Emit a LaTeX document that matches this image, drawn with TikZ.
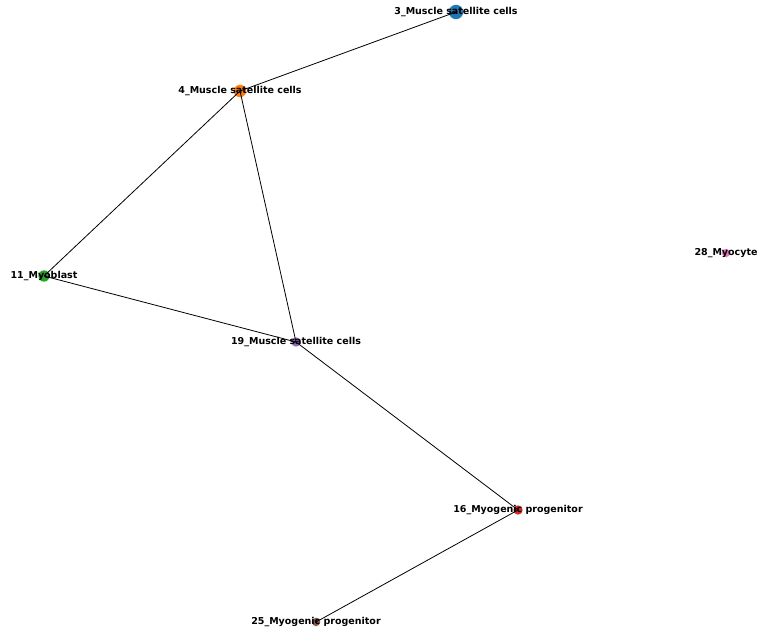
\documentclass[tikz,border=0pt]{standalone}
\usepackage{fontspec}
\setmainfont{DejaVu Sans}
\definecolor{c3}{HTML}{1F77B4}\definecolor{c4}{HTML}{FF7F0E}\definecolor{c11}{HTML}{2CA02C}
\definecolor{c19}{HTML}{9467BD}\definecolor{c16}{HTML}{D62728}\definecolor{c25}{HTML}{8C564B}
\definecolor{c28}{HTML}{E377C2}
\begin{document}
\begin{tikzpicture}[x=1bp,y=-1bp,
  dot/.style={circle,draw=white,line width=0.4bp,inner sep=0pt},
  lab/.style={font=\bfseries\fontsize{9.5bp}{11bp}\selectfont,inner sep=0pt},
  edge/.style={line width=0.8bp,black}]
\useasboundingbox[fill=white] (0,0) rectangle (769,638);
\node[dot,fill=c3,minimum size=15bp] (n3) at (456,12) {};
\node[dot,fill=c4,minimum size=13bp] (n4) at (240,91) {};
\node[dot,fill=c11,minimum size=12bp] (n11) at (44,276) {};
\node[dot,fill=c19,minimum size=10bp] (n19) at (296,342) {};
\node[dot,fill=c16,minimum size=10bp] (n16) at (518,510) {};
\node[dot,fill=c25,minimum size=9bp] (n25) at (316,622) {};
\node[dot,fill=c28,minimum size=9bp] (n28) at (726,253) {};
\draw[edge] (n3.center)--(n4.center) (n4.center)--(n11.center) (n4.center)--(n19.center)
  (n11.center)--(n19.center) (n19.center)--(n16.center) (n16.center)--(n25.center);
\node[lab] (l3) at (456,12) {3\_Muscle satellite cells};
\node[lab] (l4) at (240,91) {4\_Muscle satellite cells};
\node[lab] (l11) at (44,276) {11\_Myoblast};
\node[lab] (l19) at (296,342) {19\_Muscle satellite cells};
\node[lab] (l16) at (518,510) {16\_Myogenic progenitor};
\node[lab] (l25) at (316,622) {25\_Myogenic progenitor};
\node[lab] (l28) at (726,253) {28\_Myocyte};
\end{tikzpicture}
\end{document}
